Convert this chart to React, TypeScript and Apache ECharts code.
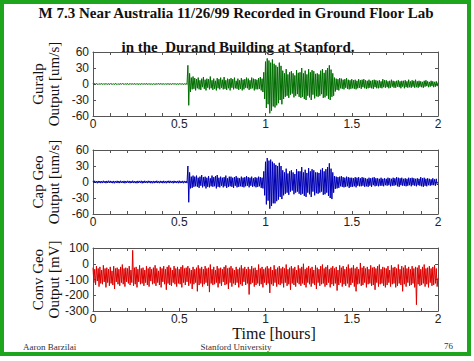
import React, { useEffect, useRef } from 'react';
import * as echarts from 'echarts';

// sample spacing (hours) of the hand-read traces below (alternating peaks)
const DT = 0.005;
const xLabelTicks = [0, 0.5, 1, 1.5, 2];

// Guralp output [um/s]
const guralp = [
  0.8, -1, 1.2, -0.7, 1, -0.9, 0.6, -1.1, 1, -0.8,
  1.1, -0.9, 0.7, -1, 1.2, -0.8, 0.9, -1, 0.8, -1.2,
  1, -0.7, 0.9, -1.1, 0.8, -1, 1.2, -0.9, 0.7, -1,
  0.9, -1.1, 1, -0.8, 1.1, -0.7, 0.8, -1, 1, -0.9,
  1.2, -1, 0.7, -0.9, 1, -1.1, 0.9, -0.8, 1.1, -1,
  0.8, -0.9, 1, -1.2, 0.7, -1, 1.1, -0.8, 0.9, -1,
  1, -0.8, 1.2, -1, 0.8, -0.9, 1, -1.1, 0.7, -1,
  0.9, -1, 0.8, -1.2, 1.1, -0.7, 1, -0.9, 1.2, -0.8,
  1, -1.1, 0.9, -0.8, 0.7, -1, 1.1, -0.9, 1, -1.2,
  0.8, -1, 1, -0.7, 1.2, -0.9, 0.9, -1.1, 0.8, -1,
  1.1, -0.8, 1, -1, 0.9, -1.2, 0.8, -1, 1.2, -0.9,
  35, -40, 20, -15, 12, -10, 14, -9, 11, -12,
  9, -8, 12, -10, 7, -11, 10, -6, 13, -9,
  8, -12, 10, -7, 9, -10, 14, -8, 7, -11,
  10, -9, 6, -12, 11, -8, 9, -10, 12, -7,
  8, -10, 13, -9, 7, -11, 10, -8, 9, -12,
  11, -7, 9, -10, 12, -8, 6, -9, 10, -11,
  7, -9, 11, -12, 8, -10, 9, -7, 12, -8,
  10, -11, 7, -9, 12, -8, 10, -12, 9, -10,
  8, -10, 11, -9, 13, -12, 10, -15, 22, -28,
  42, -45, 48, -38, 44, -55, 40, -50, 46, -42,
  38, -44, 35, -40, 32, -36, 40, -30, 34, -38,
  25, -28, 20, -24, 28, -22, 18, -26, 22, -20,
  24, -18, 20, -25, 16, -22, 26, -19, 21, -24,
  22, -26, 30, -24, 20, -28, 25, -30, 18, -22,
  28, -25, 22, -30, 26, -20, 24, -27, 19, -23,
  20, -24, 18, -22, 25, -19, 28, -26, 21, -25,
  26, -22, 30, -28, 35, -30, 27, -24, 20, -22,
  12, -14, 10, -11, 9, -12, 11, -8, 10, -9,
  8, -10, 9, -7, 11, -9, 8, -10, 7, -9,
  9, -8, 7, -9, 8, -10, 6, -8, 9, -7,
  7, -9, 8, -6, 9, -8, 7, -9, 6, -8,
  8, -7, 6, -8, 7, -9, 8, -6, 7, -8,
  6, -8, 7, -7, 5, -8, 9, -6, 7, -7,
  7, -6, 5, -8, 6, -7, 8, -5, 6, -7,
  5, -7, 6, -5, 7, -6, 5, -8, 6, -5,
  6, -8, 7, -6, 5, -7, 8, -6, 5, -7,
  7, -5, 6, -7, 8, -6, 5, -7, 6, -5,
  5, -6, 4, -7, 6, -5, 7, -4, 5, -6,
  4, -5, 6, -4, 5, -6, 4, -5, 5, -4,
  3,
];

// Cap Geo output [um/s]
const capGeo = [
  2, -1.5, 2.2, -1.8, 1.6, -2.3, 2, -1.7, 1.9, -2.1,
  1.7, -2, 2.3, -1.6, 1.8, -2.2, 2, -1.9, 2.4, -1.7,
  2.1, -1.8, 1.6, -2.2, 2, -2.4, 1.8, -1.6, 2.2, -2,
  1.9, -2.1, 2.3, -1.7, 1.6, -2, 2.1, -2.3, 1.8, -1.9,
  2.2, -1.6, 2, -2.2, 1.7, -1.9, 2.4, -2, 1.8, -2.1,
  1.6, -2.3, 2.1, -1.8, 2, -1.7, 2.2, -2.4, 1.9, -2,
  2.3, -1.9, 1.7, -2.1, 2.2, -1.6, 2, -2.2, 1.8, -2.3,
  2, -2.1, 1.9, -1.7, 2.4, -2, 1.6, -2.2, 2.1, -1.8,
  1.8, -2.2, 2.2, -2, 1.7, -2.3, 2, -1.6, 2.3, -2.1,
  2.1, -1.7, 1.9, -2.4, 2.2, -1.8, 1.8, -2, 2, -2.2,
  2.4, -2, 1.6, -1.9, 2.1, -2.3, 2, -1.7, 1.9, -2.1,
  30, -38, 18, -12, 10, -11, 12, -9, 10, -8,
  12, -9, 8, -11, 10, -7, 13, -10, 9, -8,
  10, -12, 8, -9, 11, -10, 7, -8, 12, -9,
  9, -8, 11, -12, 13, -9, 8, -10, 10, -7,
  8, -10, 9, -8, 12, -11, 7, -9, 10, -8,
  10, -9, 8, -11, 9, -7, 11, -10, 8, -9,
  7, -8, 10, -9, 8, -10, 9, -8, 11, -7,
  9, -10, 8, -7, 10, -9, 7, -8, 9, -10,
  8, -9, 10, -8, 9, -11, 8, -12, 20, -25,
  38, -42, 45, -35, 40, -50, 42, -45, 38, -40,
  35, -40, 32, -36, 30, -33, 36, -28, 30, -32,
  22, -25, 18, -22, 25, -20, 16, -24, 20, -18,
  22, -16, 18, -23, 15, -20, 24, -18, 20, -22,
  20, -24, 28, -22, 18, -26, 23, -28, 17, -20,
  26, -23, 20, -28, 24, -18, 22, -25, 18, -21,
  18, -22, 17, -20, 23, -18, 26, -24, 20, -23,
  24, -20, 28, -26, 35, -30, 25, -32, 18, -20,
  11, -13, 10, -12, 9, -11, 10, -8, 11, -9,
  9, -10, 8, -9, 10, -8, 9, -11, 8, -9,
  8, -9, 7, -8, 9, -10, 8, -7, 9, -8,
  7, -8, 9, -7, 8, -9, 7, -8, 6, -9,
  8, -7, 7, -9, 8, -6, 9, -8, 7, -7,
  7, -8, 6, -7, 8, -7, 6, -8, 7, -6,
  6, -7, 8, -6, 7, -8, 6, -7, 8, -7,
  7, -6, 9, -8, 8, -9, 7, -6, 8, -7,
  6, -7, 7, -8, 6, -7, 8, -6, 7, -8,
  8, -6, 7, -7, 6, -8, 7, -6, 6, -7,
  9, -8, 7, -9, 8, -7, 6, -8, 7, -6,
  6, -7, 5, -6, 7, -6, 5, -7, 6, -5,
  -4,
];

// Conventional geophone output [mV]
const convGeo = [
  -25, -120, -35, -135, -15, -110, -30, -145, -20, -125,
  -40, -130, -10, -115, -30, -150, -25, -120, -35, -140,
  -20, -125, -45, -135, -15, -160, -30, -115, -25, -130,
  -35, -140, -20, -120, -5, -130, -30, -145, -25, -115,
  -30, -125, -15, -135, -40, -120, 85, -140, -25, -130,
  -20, -150, -35, -115, -10, -130, -30, -125, -25, -140,
  -40, -120, -15, -135, -30, -145, -20, -110, -35, -130,
  -25, -125, -10, -140, -30, -120, -45, -135, -20, -150,
  -30, -115, -15, -130, -35, -165, -20, -125, -10, -135,
  -25, -140, -40, -120, -15, -130, -30, -145, -20, -125,
  -35, -130, -20, -150, -10, -120, -30, -135, -25, -115,
  -15, -140, -30, -125, -40, -160, -20, -130, -35, -120,
  -25, -175, -10, -135, -30, -125, -20, -145, -35, -130,
  -15, -120, -30, -140, -25, -180, -5, -125, -35, -135,
  -20, -130, -40, -120, -15, -150, -30, -125, -25, -140,
  -35, -115, -20, -135, -10, -130, -30, -160, -25, -120,
  -15, -145, -30, -125, -40, -135, -20, -120, -35, -150,
  -25, -130, -10, -140, -30, -115, -20, -135, -35, -125,
  -20, -195, -35, -130, -15, -120, -30, -145, -25, -135,
  -40, -125, -5, -140, -30, -130, -20, -150, -35, -120,
  -25, -135, -15, -125, -30, -185, -20, -130, -40, -140,
  -10, -120, -35, -145, -25, -130, -15, -135, -30, -125,
  -20, -150, -30, -120, -5, -140, -35, -130, -25, -165,
  -15, -125, -30, -135, -20, -145, -40, -120, -10, -130,
  -30, -140, -20, -125, 0, -135, -35, -150, -25, -120,
  -15, -130, -30, -145, -20, -125, -40, -135, -10, -160,
  -25, -120, -35, -140, -15, -130, -5, -125, -30, -145,
  -20, -135, -10, -120, -35, -150, -25, -130, -15, -140,
  -30, -125, -20, -170, -40, -135, -10, -120, -25, -145,
  -15, -130, -35, -140, -20, -125, -5, -150, -30, -135,
  -25, -120, -10, -145, -30, -175, -20, -130, -35, -125,
  5, -140, -25, -135, -15, -120, -30, -150, -20, -130,
  -35, -125, -10, -140, -25, -135, -20, -165, -30, -120,
  -15, -145, -5, -130, -35, -125, -20, -140, -25, -150,
  -30, -135, -15, -120, -40, -145, -10, -130, -25, -125,
  -20, -150, -30, -140, -5, -125, -35, -135, -15, -175,
  -25, -130, -10, -145, -30, -120, -20, -140, -35, -135,
  -15, -125, -30, -150, -20, -260, -25, -130, -10, -140,
  -35, -135, -20, -125, -5, -145, -30, -130, -25, -150,
  -15, -120, -30, -140, -20, -135, -10, -125, -30, -145,
  -90,
];

const panelNames = ['Guralp\nOutput [um/s]', 'Cap Geo\nOutput [um/s]', 'Conv Geo\nOutput [mV]'];
const panelData = [guralp, capGeo, convGeo];
const panelColors = ['#006e00', '#0000b4', '#dc0000'];
const panelMin = [-60, -60, -300];
const panelMax = [60, 60, 100];
const panelInterval = [30, 30, 100];

const GRID_TOPS = [52, 150, 248];
const GRID_HEIGHTS = [64, 64, 63];
const GRID_LEFT = 93;
const GRID_WIDTH = 345;

export default function App() {
  const ref = useRef<HTMLDivElement>(null);
  useEffect(() => {
    if (!ref.current) return;
    const chart = echarts.init(ref.current, null, { renderer: 'svg' });
    const axisColor = '#555';
    const labelFont = { fontSize: 12, color: '#222', fontFamily: '"Liberation Sans", Arial, sans-serif' };
    const grids: any[] = [];
    const xAxes: any[] = [];
    const yAxes: any[] = [];
    const series: any[] = [];
    const graphics: any[] = [];
    const isLabelTick = (v: number) => xLabelTicks.some((t) => Math.abs(t - v) < 1e-6);

    panelData.forEach((data, i) => {
      grids.push({ left: GRID_LEFT, top: GRID_TOPS[i], width: GRID_WIDTH, height: GRID_HEIGHTS[i], containLabel: false });
      const xBase = {
        gridIndex: i, type: 'value', min: 0, max: 2, interval: 0.1,
        axisLine: { onZero: false, lineStyle: { color: axisColor, width: 1 } },
        axisTick: { inside: true, length: 3, lineStyle: { color: axisColor } },
        splitLine: { show: false },
      };
      xAxes.push({
        ...xBase, position: 'bottom',
        axisLabel: { ...labelFont, margin: 2, formatter: (v: number) => (isLabelTick(v) ? String(+v.toFixed(1)) : '') },
      });
      xAxes.push({ ...xBase, position: 'top', axisLabel: { show: false } });
      const yBase = {
        gridIndex: i, type: 'value', min: panelMin[i], max: panelMax[i], interval: panelInterval[i],
        axisLine: { show: true, onZero: false, lineStyle: { color: axisColor, width: 1 } },
        axisTick: { show: true, inside: true, length: 3, lineStyle: { color: axisColor } },
        splitLine: { show: false },
      };
      yAxes.push({ ...yBase, position: 'left', axisLabel: { ...labelFont, margin: 4 } });
      yAxes.push({ ...yBase, position: 'right', axisLabel: { show: false } });
      series.push({
        type: 'line', xAxisIndex: 2 * i, yAxisIndex: 2 * i,
        data: data.map((v, k) => [k * DT, v]),
        showSymbol: false, symbol: 'none',
        lineStyle: { color: panelColors[i], width: 1 },
        silent: true,
      });
      graphics.push({
        type: 'text', x: 46, y: GRID_TOPS[i] + GRID_HEIGHTS[i] / 2, rotation: Math.PI / 2,
        style: {
          text: panelNames[i], fill: '#111', textAlign: 'center', textVerticalAlign: 'middle',
          font: '15px "Liberation Serif", "Times New Roman", serif', lineHeight: 16,
        },
      });
    });

    graphics.push(
      { type: 'rect', shape: { x: 2, y: 2, width: 467, height: 352 }, style: { fill: 'none', stroke: '#1ea51e', lineWidth: 4 } },
      { type: 'text', x: 236, y: 13, style: { text: 'M 7.3 Near Australia 11/26/99 Recorded in Ground Floor Lab', fill: '#111', textAlign: 'center', textVerticalAlign: 'middle', font: 'bold 15px "Liberation Serif", serif' } },
      { type: 'text', x: 238, y: 47, style: { text: 'in the  Durand Building at Stanford.', fill: '#111', textAlign: 'center', textVerticalAlign: 'middle', font: 'bold 15px "Liberation Serif", serif' } },
      { type: 'text', x: 274, y: 333, style: { text: 'Time [hours]', fill: '#111', textAlign: 'center', textVerticalAlign: 'middle', font: '16px "Liberation Serif", serif' } },
      { type: 'text', x: 23, y: 347, style: { text: 'Aaron Barzilai', fill: '#333', textAlign: 'left', textVerticalAlign: 'middle', font: '9px "Liberation Serif", serif' } },
      { type: 'text', x: 236, y: 347, style: { text: 'Stanford University', fill: '#333', textAlign: 'center', textVerticalAlign: 'middle', font: '9px "Liberation Serif", serif' } },
      { type: 'text', x: 453, y: 346, style: { text: '76', fill: '#333', textAlign: 'right', textVerticalAlign: 'middle', font: '9px "Liberation Serif", serif' } },
    );

    chart.setOption({
      animation: false,
      backgroundColor: '#fff',
      grid: grids,
      xAxis: xAxes,
      yAxis: yAxes,
      series,
      graphic: graphics,
    });
    return () => chart.dispose();
  }, []);
  return <div ref={ref} style={{ position: 'fixed', left: 0, top: 0, width: 474, height: 361 }} />;
}
